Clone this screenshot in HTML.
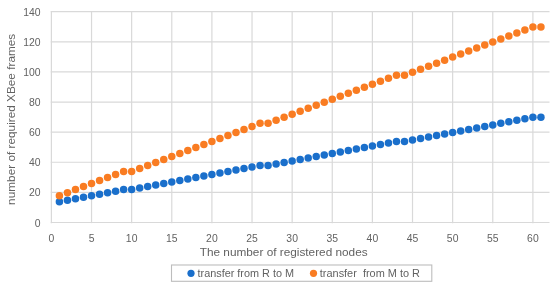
<!DOCTYPE html>
<html><head><meta charset="utf-8"><title>chart</title>
<style>
html,body{margin:0;padding:0;background:#fff;}
body{width:550px;height:285px;overflow:hidden;}
svg{display:block;}
text{font-family:"Liberation Sans",sans-serif;fill:#626262;}
.t{font-size:10.4px;}
.a{font-size:11.8px;}
</style></head><body>
<svg width="550" height="285" viewBox="0 0 550 285">
<rect width="550" height="285" fill="#ffffff"/>
<g stroke="#d9d9d9" stroke-width="1.2" fill="none">
<line x1="50.75" y1="222.50" x2="549.5" y2="222.50"/>
<line x1="50.75" y1="192.39" x2="549.5" y2="192.39"/>
<line x1="50.75" y1="162.27" x2="549.5" y2="162.27"/>
<line x1="50.75" y1="132.16" x2="549.5" y2="132.16"/>
<line x1="50.75" y1="102.04" x2="549.5" y2="102.04"/>
<line x1="50.75" y1="71.93" x2="549.5" y2="71.93"/>
<line x1="50.75" y1="41.81" x2="549.5" y2="41.81"/>
<line x1="50.75" y1="11.70" x2="549.5" y2="11.70"/>
<line x1="51.40" y1="11.05" x2="51.40" y2="223.15"/>
<line x1="91.53" y1="11.05" x2="91.53" y2="223.15"/>
<line x1="131.65" y1="11.05" x2="131.65" y2="223.15"/>
<line x1="171.78" y1="11.05" x2="171.78" y2="223.15"/>
<line x1="211.90" y1="11.05" x2="211.90" y2="223.15"/>
<line x1="252.03" y1="11.05" x2="252.03" y2="223.15"/>
<line x1="292.15" y1="11.05" x2="292.15" y2="223.15"/>
<line x1="332.27" y1="11.05" x2="332.27" y2="223.15"/>
<line x1="372.40" y1="11.05" x2="372.40" y2="223.15"/>
<line x1="412.52" y1="11.05" x2="412.52" y2="223.15"/>
<line x1="452.65" y1="11.05" x2="452.65" y2="223.15"/>
<line x1="492.77" y1="11.05" x2="492.77" y2="223.15"/>
<line x1="532.90" y1="11.05" x2="532.90" y2="223.15"/>
</g>
<g class="t" text-anchor="end">
<text x="40.6" y="226.50">0</text>
<text x="40.6" y="196.39">20</text>
<text x="40.6" y="166.27">40</text>
<text x="40.6" y="136.16">60</text>
<text x="40.6" y="106.04">80</text>
<text x="40.6" y="75.93">100</text>
<text x="40.6" y="45.81">120</text>
<text x="40.6" y="15.70">140</text>
</g>
<g class="t" text-anchor="middle">
<text x="51.40" y="241.7">0</text>
<text x="91.53" y="241.7">5</text>
<text x="131.65" y="241.7">10</text>
<text x="171.78" y="241.7">15</text>
<text x="211.90" y="241.7">20</text>
<text x="252.03" y="241.7">25</text>
<text x="292.15" y="241.7">30</text>
<text x="332.27" y="241.7">35</text>
<text x="372.40" y="241.7">40</text>
<text x="412.52" y="241.7">45</text>
<text x="452.65" y="241.7">50</text>
<text x="492.77" y="241.7">55</text>
<text x="532.90" y="241.7">60</text>
</g>
<text class="a" text-anchor="middle" x="283.7" y="255.8">The number of registered nodes</text>
<text class="a" text-anchor="middle" transform="translate(15.4 119.3) rotate(-90)">number of required XBee frames</text>
<g fill="#1a6fcb">
<circle cx="59.42" cy="201.67" r="3.75"/>
<circle cx="67.45" cy="200.16" r="3.75"/>
<circle cx="75.47" cy="198.66" r="3.75"/>
<circle cx="83.50" cy="197.15" r="3.75"/>
<circle cx="91.53" cy="195.65" r="3.75"/>
<circle cx="99.55" cy="194.14" r="3.75"/>
<circle cx="107.58" cy="192.64" r="3.75"/>
<circle cx="115.60" cy="191.13" r="3.75"/>
<circle cx="123.62" cy="189.62" r="3.75"/>
<circle cx="131.65" cy="189.62" r="3.75"/>
<circle cx="139.68" cy="188.12" r="3.75"/>
<circle cx="147.70" cy="186.61" r="3.75"/>
<circle cx="155.72" cy="185.11" r="3.75"/>
<circle cx="163.75" cy="183.60" r="3.75"/>
<circle cx="171.78" cy="182.10" r="3.75"/>
<circle cx="179.80" cy="180.59" r="3.75"/>
<circle cx="187.83" cy="179.08" r="3.75"/>
<circle cx="195.85" cy="177.58" r="3.75"/>
<circle cx="203.88" cy="176.07" r="3.75"/>
<circle cx="211.90" cy="174.57" r="3.75"/>
<circle cx="219.93" cy="173.06" r="3.75"/>
<circle cx="227.95" cy="171.56" r="3.75"/>
<circle cx="235.98" cy="170.05" r="3.75"/>
<circle cx="244.00" cy="168.54" r="3.75"/>
<circle cx="252.03" cy="167.04" r="3.75"/>
<circle cx="260.05" cy="165.53" r="3.75"/>
<circle cx="268.07" cy="165.53" r="3.75"/>
<circle cx="276.10" cy="164.03" r="3.75"/>
<circle cx="284.12" cy="162.52" r="3.75"/>
<circle cx="292.15" cy="161.02" r="3.75"/>
<circle cx="300.18" cy="159.51" r="3.75"/>
<circle cx="308.20" cy="158.00" r="3.75"/>
<circle cx="316.22" cy="156.50" r="3.75"/>
<circle cx="324.25" cy="154.99" r="3.75"/>
<circle cx="332.27" cy="153.49" r="3.75"/>
<circle cx="340.30" cy="151.98" r="3.75"/>
<circle cx="348.32" cy="150.48" r="3.75"/>
<circle cx="356.35" cy="148.97" r="3.75"/>
<circle cx="364.38" cy="147.46" r="3.75"/>
<circle cx="372.40" cy="145.96" r="3.75"/>
<circle cx="380.43" cy="144.45" r="3.75"/>
<circle cx="388.45" cy="142.95" r="3.75"/>
<circle cx="396.47" cy="141.44" r="3.75"/>
<circle cx="404.50" cy="141.44" r="3.75"/>
<circle cx="412.52" cy="139.94" r="3.75"/>
<circle cx="420.55" cy="138.43" r="3.75"/>
<circle cx="428.57" cy="136.92" r="3.75"/>
<circle cx="436.60" cy="135.42" r="3.75"/>
<circle cx="444.62" cy="133.91" r="3.75"/>
<circle cx="452.65" cy="132.41" r="3.75"/>
<circle cx="460.68" cy="130.90" r="3.75"/>
<circle cx="468.70" cy="129.40" r="3.75"/>
<circle cx="476.73" cy="127.89" r="3.75"/>
<circle cx="484.75" cy="126.38" r="3.75"/>
<circle cx="492.77" cy="124.88" r="3.75"/>
<circle cx="500.80" cy="123.37" r="3.75"/>
<circle cx="508.82" cy="121.87" r="3.75"/>
<circle cx="516.85" cy="120.36" r="3.75"/>
<circle cx="524.88" cy="118.86" r="3.75"/>
<circle cx="532.90" cy="117.35" r="3.75"/>
<circle cx="540.93" cy="117.35" r="3.75"/>
</g>
<g fill="#f97c22">
<circle cx="59.42" cy="195.65" r="3.75"/>
<circle cx="67.45" cy="192.64" r="3.75"/>
<circle cx="75.47" cy="189.62" r="3.75"/>
<circle cx="83.50" cy="186.61" r="3.75"/>
<circle cx="91.53" cy="183.60" r="3.75"/>
<circle cx="99.55" cy="180.59" r="3.75"/>
<circle cx="107.58" cy="177.58" r="3.75"/>
<circle cx="115.60" cy="174.57" r="3.75"/>
<circle cx="123.62" cy="171.56" r="3.75"/>
<circle cx="131.65" cy="171.56" r="3.75"/>
<circle cx="139.68" cy="168.54" r="3.75"/>
<circle cx="147.70" cy="165.53" r="3.75"/>
<circle cx="155.72" cy="162.52" r="3.75"/>
<circle cx="163.75" cy="159.51" r="3.75"/>
<circle cx="171.78" cy="156.50" r="3.75"/>
<circle cx="179.80" cy="153.49" r="3.75"/>
<circle cx="187.83" cy="150.48" r="3.75"/>
<circle cx="195.85" cy="147.46" r="3.75"/>
<circle cx="203.88" cy="144.45" r="3.75"/>
<circle cx="211.90" cy="141.44" r="3.75"/>
<circle cx="219.93" cy="138.43" r="3.75"/>
<circle cx="227.95" cy="135.42" r="3.75"/>
<circle cx="235.98" cy="132.41" r="3.75"/>
<circle cx="244.00" cy="129.40" r="3.75"/>
<circle cx="252.03" cy="126.38" r="3.75"/>
<circle cx="260.05" cy="123.37" r="3.75"/>
<circle cx="268.07" cy="123.37" r="3.75"/>
<circle cx="276.10" cy="120.36" r="3.75"/>
<circle cx="284.12" cy="117.35" r="3.75"/>
<circle cx="292.15" cy="114.34" r="3.75"/>
<circle cx="300.18" cy="111.33" r="3.75"/>
<circle cx="308.20" cy="108.32" r="3.75"/>
<circle cx="316.22" cy="105.30" r="3.75"/>
<circle cx="324.25" cy="102.29" r="3.75"/>
<circle cx="332.27" cy="99.28" r="3.75"/>
<circle cx="340.30" cy="96.27" r="3.75"/>
<circle cx="348.32" cy="93.26" r="3.75"/>
<circle cx="356.35" cy="90.25" r="3.75"/>
<circle cx="364.38" cy="87.24" r="3.75"/>
<circle cx="372.40" cy="84.22" r="3.75"/>
<circle cx="380.43" cy="81.21" r="3.75"/>
<circle cx="388.45" cy="78.20" r="3.75"/>
<circle cx="396.47" cy="75.19" r="3.75"/>
<circle cx="404.50" cy="75.19" r="3.75"/>
<circle cx="412.52" cy="72.18" r="3.75"/>
<circle cx="420.55" cy="69.17" r="3.75"/>
<circle cx="428.57" cy="66.16" r="3.75"/>
<circle cx="436.60" cy="63.14" r="3.75"/>
<circle cx="444.62" cy="60.13" r="3.75"/>
<circle cx="452.65" cy="57.12" r="3.75"/>
<circle cx="460.68" cy="54.11" r="3.75"/>
<circle cx="468.70" cy="51.10" r="3.75"/>
<circle cx="476.73" cy="48.09" r="3.75"/>
<circle cx="484.75" cy="45.08" r="3.75"/>
<circle cx="492.77" cy="42.06" r="3.75"/>
<circle cx="500.80" cy="39.05" r="3.75"/>
<circle cx="508.82" cy="36.04" r="3.75"/>
<circle cx="516.85" cy="33.03" r="3.75"/>
<circle cx="524.88" cy="30.02" r="3.75"/>
<circle cx="532.90" cy="27.01" r="3.75"/>
<circle cx="540.93" cy="27.01" r="3.75"/>
</g>
<rect x="171.5" y="265.0" width="260.3" height="16.3" fill="#fff" stroke="#bdbdbd" stroke-width="1.1"/>
<circle cx="191" cy="273.3" r="3.6" fill="#1a6fcb"/>
<text class="t" x="197.5" y="276.7" textLength="96.6" lengthAdjust="spacingAndGlyphs">transfer from R to M</text>
<circle cx="313.5" cy="273.3" r="3.6" fill="#f97c22"/>
<text class="t" x="319.8" y="276.7" textLength="100.2" lengthAdjust="spacingAndGlyphs" xml:space="preserve">transfer  from M to R</text>
</svg></body></html>
